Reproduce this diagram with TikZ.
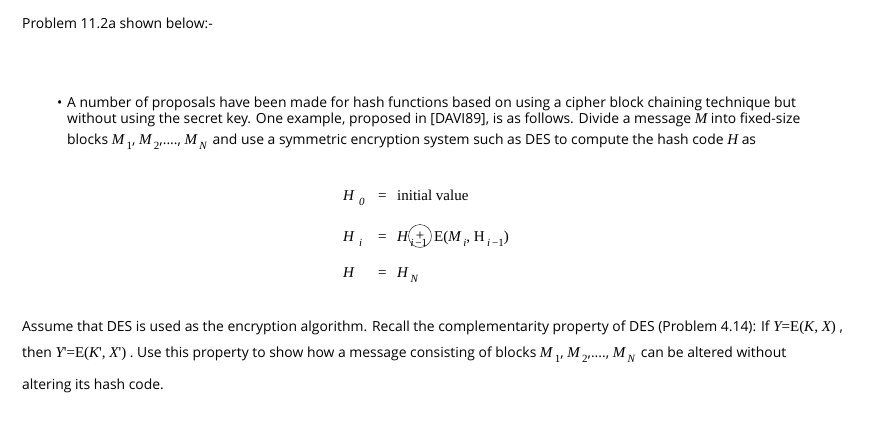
\documentclass[tikz,border=0pt]{standalone}
\usepackage{fontspec}
\setmainfont{Open Sans}
\newfontfamily\mf{Liberation Serif}
\newcommand{\mix}[1]{{\mf\itshape\fontsize{15bp}{16bp}\selectfont #1}}
\newcommand{\sbx}[1]{\raisebox{-5bp}{\mf\fontsize{11bp}{12bp}\selectfont #1}}
\newcommand{\mfr}[1]{{\mf\fontsize{15bp}{16bp}\selectfont #1}}
\begin{document}
\begin{tikzpicture}[x=1bp,y=-1bp,
  txt/.style={anchor=base west,inner sep=0pt,font=\fontsize{13.9bp}{14bp}\selectfont},
  eq/.style={anchor=base west,inner sep=0pt,font=\mf\fontsize{15bp}{16bp}\selectfont}]
\useasboundingbox[fill=white] (0,0) rectangle (886,420);
\node[txt] (t0) at (22,28) {Problem 11.2a shown below:-};
\node[txt] (bul) at (57,107) {•};
\node[txt] (l1) at (67,107) {A number of proposals have been made for hash functions based on using a cipher block chaining technique but};
\node[txt] (l2) at (67,123) {without using the secret key. One example, proposed in [DAVI89], is as follows. Divide a message \mix{M} into fixed-size};
\node[txt] (l3) at (67,144) {blocks \mix{M}\,\sbx{1}, \mix{M}\,\sbx{2},...., \mix{M}\,\sbx{\itshape N}\, and use a symmetric encryption system such as DES to compute the hash code \mix{H} as};
\node[eq] (e1a) at (343,200) {\itshape H\,\,\sbx{0}};
\node[eq] (e1b) at (378,200) {=};
\node[eq] (e1c) at (397,200) {initial value};
\node[eq] (e2a) at (343,241) {\itshape H\,\,\sbx{\itshape i}};
\node[eq] (e2b) at (378,241) {=};
\node[eq] (e2c) at (397,241) {\itshape H\,\sbx{\itshape i\,\upshape −1}};
\node[draw,circle,inner sep=0pt,minimum size=23bp,font=\mf\fontsize{15bp}{16bp}\selectfont] (op) at (420,236) {+};
\node[eq] (e2d) at (434,241) {\upshape E(\itshape M\,\sbx{\itshape i}\upshape, H\,\sbx{\itshape i\,\upshape −1}\upshape)};
\node[eq] (e3a) at (343,277) {\itshape H};
\node[eq] (e3b) at (378,277) {=};
\node[eq] (e3c) at (397,277) {\itshape H\,\sbx{\itshape N}};
\node[txt] (l4) at (22,331) {Assume that DES is used as the encryption algorithm. Recall the complementarity property of DES (Problem 4.14): If \mix{Y}\mfr{=E(}\mix{K}\mfr{, }\mix{X}\mfr{)} ,};
\node[txt] (l5) at (22,357) {then \mix{Y}\mfr{'=E(}\mix{K}\mfr{', }\mix{X}\mfr{')} . Use this property to show how a message consisting of blocks \mix{M}\,\sbx{1}, \mix{M}\,\sbx{2},...., \mix{M}\,\sbx{\itshape N}\, can be altered without};
\node[txt] (l6) at (22,389) {altering its hash code.};
\end{tikzpicture}
\end{document}
